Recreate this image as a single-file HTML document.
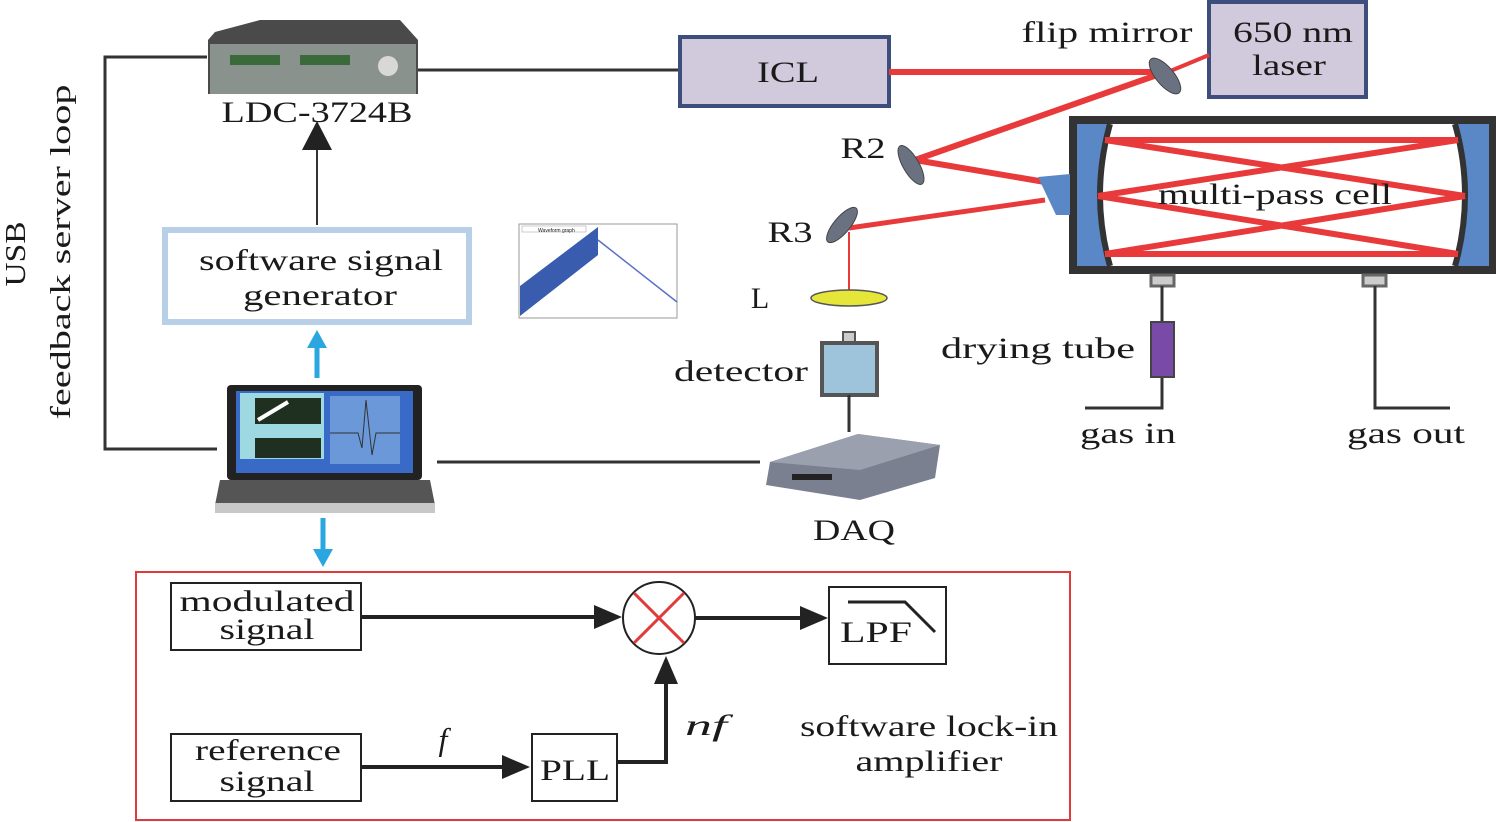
<!DOCTYPE html>
<html><head><meta charset="utf-8"><style>
html,body{margin:0;padding:0;background:#fff;}
svg{display:block;font-family:"Liberation Serif",serif;}
text{fill:#1a1a1a;}
</style></head><body>
<svg width="1496" height="822" viewBox="0 0 1496 822" xmlns="http://www.w3.org/2000/svg">
<!-- feedback loop -->
<polyline points="207,57 105,57 105,449 217,449" fill="none" stroke="#333" stroke-width="3"/>
<text x="25" y="254" font-size="29" text-anchor="middle" textLength="65" lengthAdjust="spacingAndGlyphs" transform="rotate(-90 25 254)">USB</text>
<text x="70" y="252" font-size="29" text-anchor="middle" textLength="335" lengthAdjust="spacingAndGlyphs" transform="rotate(-90 70 252)">feedback server loop</text>
<!-- LDC device -->
<path d="M215,32 L260,20 L400,20 L418,40 L418,94 L208,94 L208,40 z" fill="#4a4a4a"/>
<rect x="210" y="44" width="206" height="50" fill="#8a928e"/>
<rect x="230" y="55" width="50" height="10" fill="#3a6a3a"/>
<rect x="300" y="55" width="50" height="10" fill="#3a6a3a"/>
<circle cx="388" cy="66" r="10" fill="#d8d8d8"/>
<text x="317" y="122" font-size="30" text-anchor="middle" textLength="191" lengthAdjust="spacingAndGlyphs">LDC-3724B</text>
<line x1="418" y1="70" x2="680" y2="70" stroke="#333" stroke-width="3"/>
<line x1="317" y1="225" x2="317" y2="150" stroke="#333" stroke-width="2"/>
<path d="M302,150 L317,121 L332,150 z" fill="#222"/>
<!-- ICL -->
<rect x="680" y="37" width="209" height="69" fill="#d0cadc" stroke="#3e4e7c" stroke-width="4"/>
<text x="788" y="82" font-size="30" text-anchor="middle" textLength="62" lengthAdjust="spacingAndGlyphs">ICL</text>
<!-- 650 laser -->
<rect x="1209" y="2" width="157" height="95" fill="#d0cadc" stroke="#3e4e7c" stroke-width="4"/>
<text x="1293" y="42" font-size="30" text-anchor="middle" textLength="120" lengthAdjust="spacingAndGlyphs">650 nm</text>
<text x="1289" y="75" font-size="30" text-anchor="middle" textLength="74" lengthAdjust="spacingAndGlyphs">laser</text>
<text x="1107" y="42" font-size="30" text-anchor="middle" textLength="171" lengthAdjust="spacingAndGlyphs">flip mirror</text>
<!-- beams -->
<line x1="889" y1="72" x2="1160" y2="72" stroke="#e83a3a" stroke-width="6"/>
<line x1="1209" y1="55" x2="1168" y2="72" stroke="#e83a3a" stroke-width="4"/>
<polyline points="1160,74 915,160 1045,182" fill="none" stroke="#e83a3a" stroke-width="6"/>
<polyline points="849,228 1045,200" fill="none" stroke="#e83a3a" stroke-width="5"/>
<line x1="849" y1="232" x2="849" y2="292" stroke="#e83a3a" stroke-width="2"/>
<ellipse cx="1165" cy="76" rx="9" ry="22" fill="#6a7282" stroke="#444" stroke-width="1" transform="rotate(-40 1165 76)"/>
<ellipse cx="911" cy="165" rx="8" ry="22" fill="#6a7282" stroke="#444" stroke-width="1" transform="rotate(-30 911 165)"/>
<ellipse cx="842" cy="225" rx="8" ry="22" fill="#6a7282" stroke="#444" stroke-width="1" transform="rotate(40 842 225)"/>
<text x="863" y="158" font-size="30" text-anchor="middle" textLength="45" lengthAdjust="spacingAndGlyphs">R2</text>
<text x="790" y="242" font-size="30" text-anchor="middle" textLength="45" lengthAdjust="spacingAndGlyphs">R3</text>
<text x="760" y="308" font-size="30" text-anchor="middle">L</text>
<ellipse cx="849" cy="298" rx="38" ry="8" fill="#e6e63a" stroke="#555" stroke-width="1.5"/>
<!-- detector -->
<rect x="843" y="332" width="12" height="10" fill="#ccc" stroke="#555" stroke-width="2"/>
<rect x="822" y="343" width="55" height="52" fill="#9ec4dc" stroke="#555" stroke-width="4"/>
<text x="741" y="381" font-size="30" text-anchor="middle" textLength="134" lengthAdjust="spacingAndGlyphs">detector</text>
<line x1="849" y1="395" x2="849" y2="432" stroke="#333" stroke-width="3"/>
<!-- DAQ -->
<path d="M770,462 L858,434 L940,445 L935,478 L860,500 L766,485 z" fill="#7a8090"/>
<path d="M770,462 L858,434 L940,445 L860,470 z" fill="#9aa0ae"/>
<rect x="792" y="474" width="40" height="6" fill="#222"/>
<text x="854" y="540" font-size="30" text-anchor="middle" textLength="82" lengthAdjust="spacingAndGlyphs">DAQ</text>
<line x1="437" y1="462" x2="760" y2="462" stroke="#333" stroke-width="3"/>
<!-- multi-pass cell -->
<rect x="1073" y="120" width="420" height="150" fill="#fff" stroke="#333" stroke-width="8"/>
<path d="M1077,124 L1110,124 Q1090,195 1110,266 L1077,266 z" fill="#5a88c6"/>
<path d="M1489,124 L1455,124 Q1475,195 1455,266 L1489,266 z" fill="#5a88c6"/>
<path d="M1110,124 Q1090,195 1110,266" fill="none" stroke="#333" stroke-width="6"/>
<path d="M1455,124 Q1475,195 1455,266" fill="none" stroke="#333" stroke-width="6"/>
<path d="M1038,177 L1070,174 L1070,215 L1056,215 z" fill="#5a88c6"/>
<g stroke="#e83a3a" stroke-width="6" fill="none">
<line x1="1105" y1="140" x2="1458" y2="140"/>
<line x1="1105" y1="254" x2="1458" y2="254"/>
<line x1="1105" y1="140" x2="1465" y2="196"/>
<line x1="1458" y1="140" x2="1098" y2="196"/>
<line x1="1098" y1="196" x2="1458" y2="254"/>
<line x1="1465" y1="196" x2="1105" y2="254"/>
</g>
<text x="1275" y="204" font-size="30" text-anchor="middle" textLength="234" lengthAdjust="spacingAndGlyphs">multi-pass cell</text>
<!-- ports -->
<rect x="1151" y="275" width="23" height="11" fill="#ccc" stroke="#666" stroke-width="3"/>
<rect x="1363" y="275" width="23" height="11" fill="#ccc" stroke="#666" stroke-width="3"/>
<polyline points="1162,286 1162,408 1085,408" fill="none" stroke="#333" stroke-width="3"/>
<polyline points="1375,286 1375,408 1450,408" fill="none" stroke="#333" stroke-width="3"/>
<rect x="1151" y="322" width="23" height="55" fill="#7a4aa8" stroke="#444" stroke-width="2"/>
<text x="1038" y="358" font-size="30" text-anchor="middle" textLength="194" lengthAdjust="spacingAndGlyphs">drying tube</text>
<text x="1128" y="443" font-size="30" text-anchor="middle" textLength="96" lengthAdjust="spacingAndGlyphs">gas in</text>
<text x="1406" y="443" font-size="30" text-anchor="middle" textLength="118" lengthAdjust="spacingAndGlyphs">gas out</text>
<!-- software signal generator -->
<rect x="165" y="230" width="304" height="92" fill="#fff" stroke="#b8cfe8" stroke-width="6"/>
<text x="321" y="270" font-size="30" text-anchor="middle" textLength="244" lengthAdjust="spacingAndGlyphs">software signal</text>
<text x="320" y="305" font-size="30" text-anchor="middle" textLength="154" lengthAdjust="spacingAndGlyphs">generator</text>
<!-- blue arrows -->
<line x1="317" y1="378" x2="317" y2="345" stroke="#2aa6e0" stroke-width="5"/>
<path d="M307,348 L317,330 L327,348 z" fill="#2aa6e0"/>
<line x1="323" y1="518" x2="323" y2="552" stroke="#2aa6e0" stroke-width="5"/>
<path d="M313,549 L323,567 L333,549 z" fill="#2aa6e0"/>
<!-- waveform -->
<rect x="519" y="224" width="158" height="94" fill="#fff" stroke="#999" stroke-width="1"/>
<path d="M520,286 L598,227 L598,255 L520,316 z" fill="#3a5cae"/>
<line x1="598" y1="240" x2="677" y2="302" stroke="#5a70c8" stroke-width="1.5"/>
<rect x="522" y="226" width="64" height="6" fill="#fff" stroke="#999" stroke-width="0.5"/>
<text x="538" y="232" font-size="5" font-family="Liberation Sans, sans-serif">Waveform graph</text>
<!-- laptop -->
<rect x="227" y="385" width="195" height="95" rx="4" fill="#222"/>
<rect x="236" y="391" width="177" height="82" fill="#3a6ac8"/>
<rect x="240" y="393" width="84" height="66" fill="#9ed8e0"/>
<rect x="255" y="398" width="66" height="26" fill="#203020"/>
<line x1="258" y1="420" x2="288" y2="402" stroke="#fff" stroke-width="4"/>
<rect x="255" y="438" width="66" height="20" fill="#203020"/>
<rect x="330" y="396" width="70" height="68" fill="#6a98d8"/>
<path d="M330,433 L358,433 L362,448 L366,400 L372,455 L376,433 L400,433" fill="none" stroke="#333" stroke-width="1"/>
<path d="M220,480 L430,480 L435,505 L215,505 z" fill="#555"/>
<rect x="215" y="503" width="220" height="10" fill="#c8c8c8"/>
<!-- lock-in box -->
<rect x="136" y="572" width="934" height="248" fill="none" stroke="#e03a3a" stroke-width="2"/>
<rect x="171" y="583" width="190" height="67" fill="#fff" stroke="#222" stroke-width="2"/>
<text x="267" y="611" font-size="30" text-anchor="middle" textLength="175" lengthAdjust="spacingAndGlyphs">modulated</text>
<text x="267" y="639" font-size="30" text-anchor="middle" textLength="95" lengthAdjust="spacingAndGlyphs">signal</text>
<line x1="361" y1="617" x2="600" y2="617" stroke="#222" stroke-width="4"/>
<path d="M594,605 L622,617 L594,629 z" fill="#222"/>
<circle cx="659" cy="618" r="36" fill="#fff" stroke="#222" stroke-width="2"/>
<line x1="634" y1="593" x2="684" y2="643" stroke="#e03a3a" stroke-width="3"/>
<line x1="684" y1="593" x2="634" y2="643" stroke="#e03a3a" stroke-width="3"/>
<line x1="695" y1="618" x2="805" y2="618" stroke="#222" stroke-width="4"/>
<path d="M800,606 L828,618 L800,630 z" fill="#222"/>
<rect x="829" y="587" width="117" height="77" fill="#fff" stroke="#222" stroke-width="2"/>
<polyline points="848,602 905,602 935,632" fill="none" stroke="#222" stroke-width="3"/>
<text x="876" y="642" font-size="30" text-anchor="middle" textLength="72" lengthAdjust="spacingAndGlyphs">LPF</text>
<rect x="171" y="734" width="190" height="67" fill="#fff" stroke="#222" stroke-width="2"/>
<text x="268" y="760" font-size="30" text-anchor="middle" textLength="146" lengthAdjust="spacingAndGlyphs">reference</text>
<text x="267" y="791" font-size="30" text-anchor="middle" textLength="95" lengthAdjust="spacingAndGlyphs">signal</text>
<line x1="361" y1="767" x2="505" y2="767" stroke="#222" stroke-width="4"/>
<path d="M502,755 L530,767 L502,779 z" fill="#222"/>
<text x="443" y="750" font-size="32" font-style="italic" text-anchor="middle">f</text>
<rect x="532" y="734" width="85" height="67" fill="#fff" stroke="#222" stroke-width="2"/>
<text x="575" y="780" font-size="30" text-anchor="middle" textLength="70" lengthAdjust="spacingAndGlyphs">PLL</text>
<polyline points="617,762 666,762 666,680" fill="none" stroke="#222" stroke-width="4"/>
<path d="M654,684 L666,656 L678,684 z" fill="#222"/>
<text x="706" y="735" font-size="30" font-style="italic" text-anchor="middle" textLength="42" lengthAdjust="spacingAndGlyphs">nf</text>
<text x="929" y="736" font-size="30" text-anchor="middle" textLength="258" lengthAdjust="spacingAndGlyphs">software lock-in</text>
<text x="929" y="771" font-size="30" text-anchor="middle" textLength="147" lengthAdjust="spacingAndGlyphs">amplifier</text>
</svg>
</body></html>
